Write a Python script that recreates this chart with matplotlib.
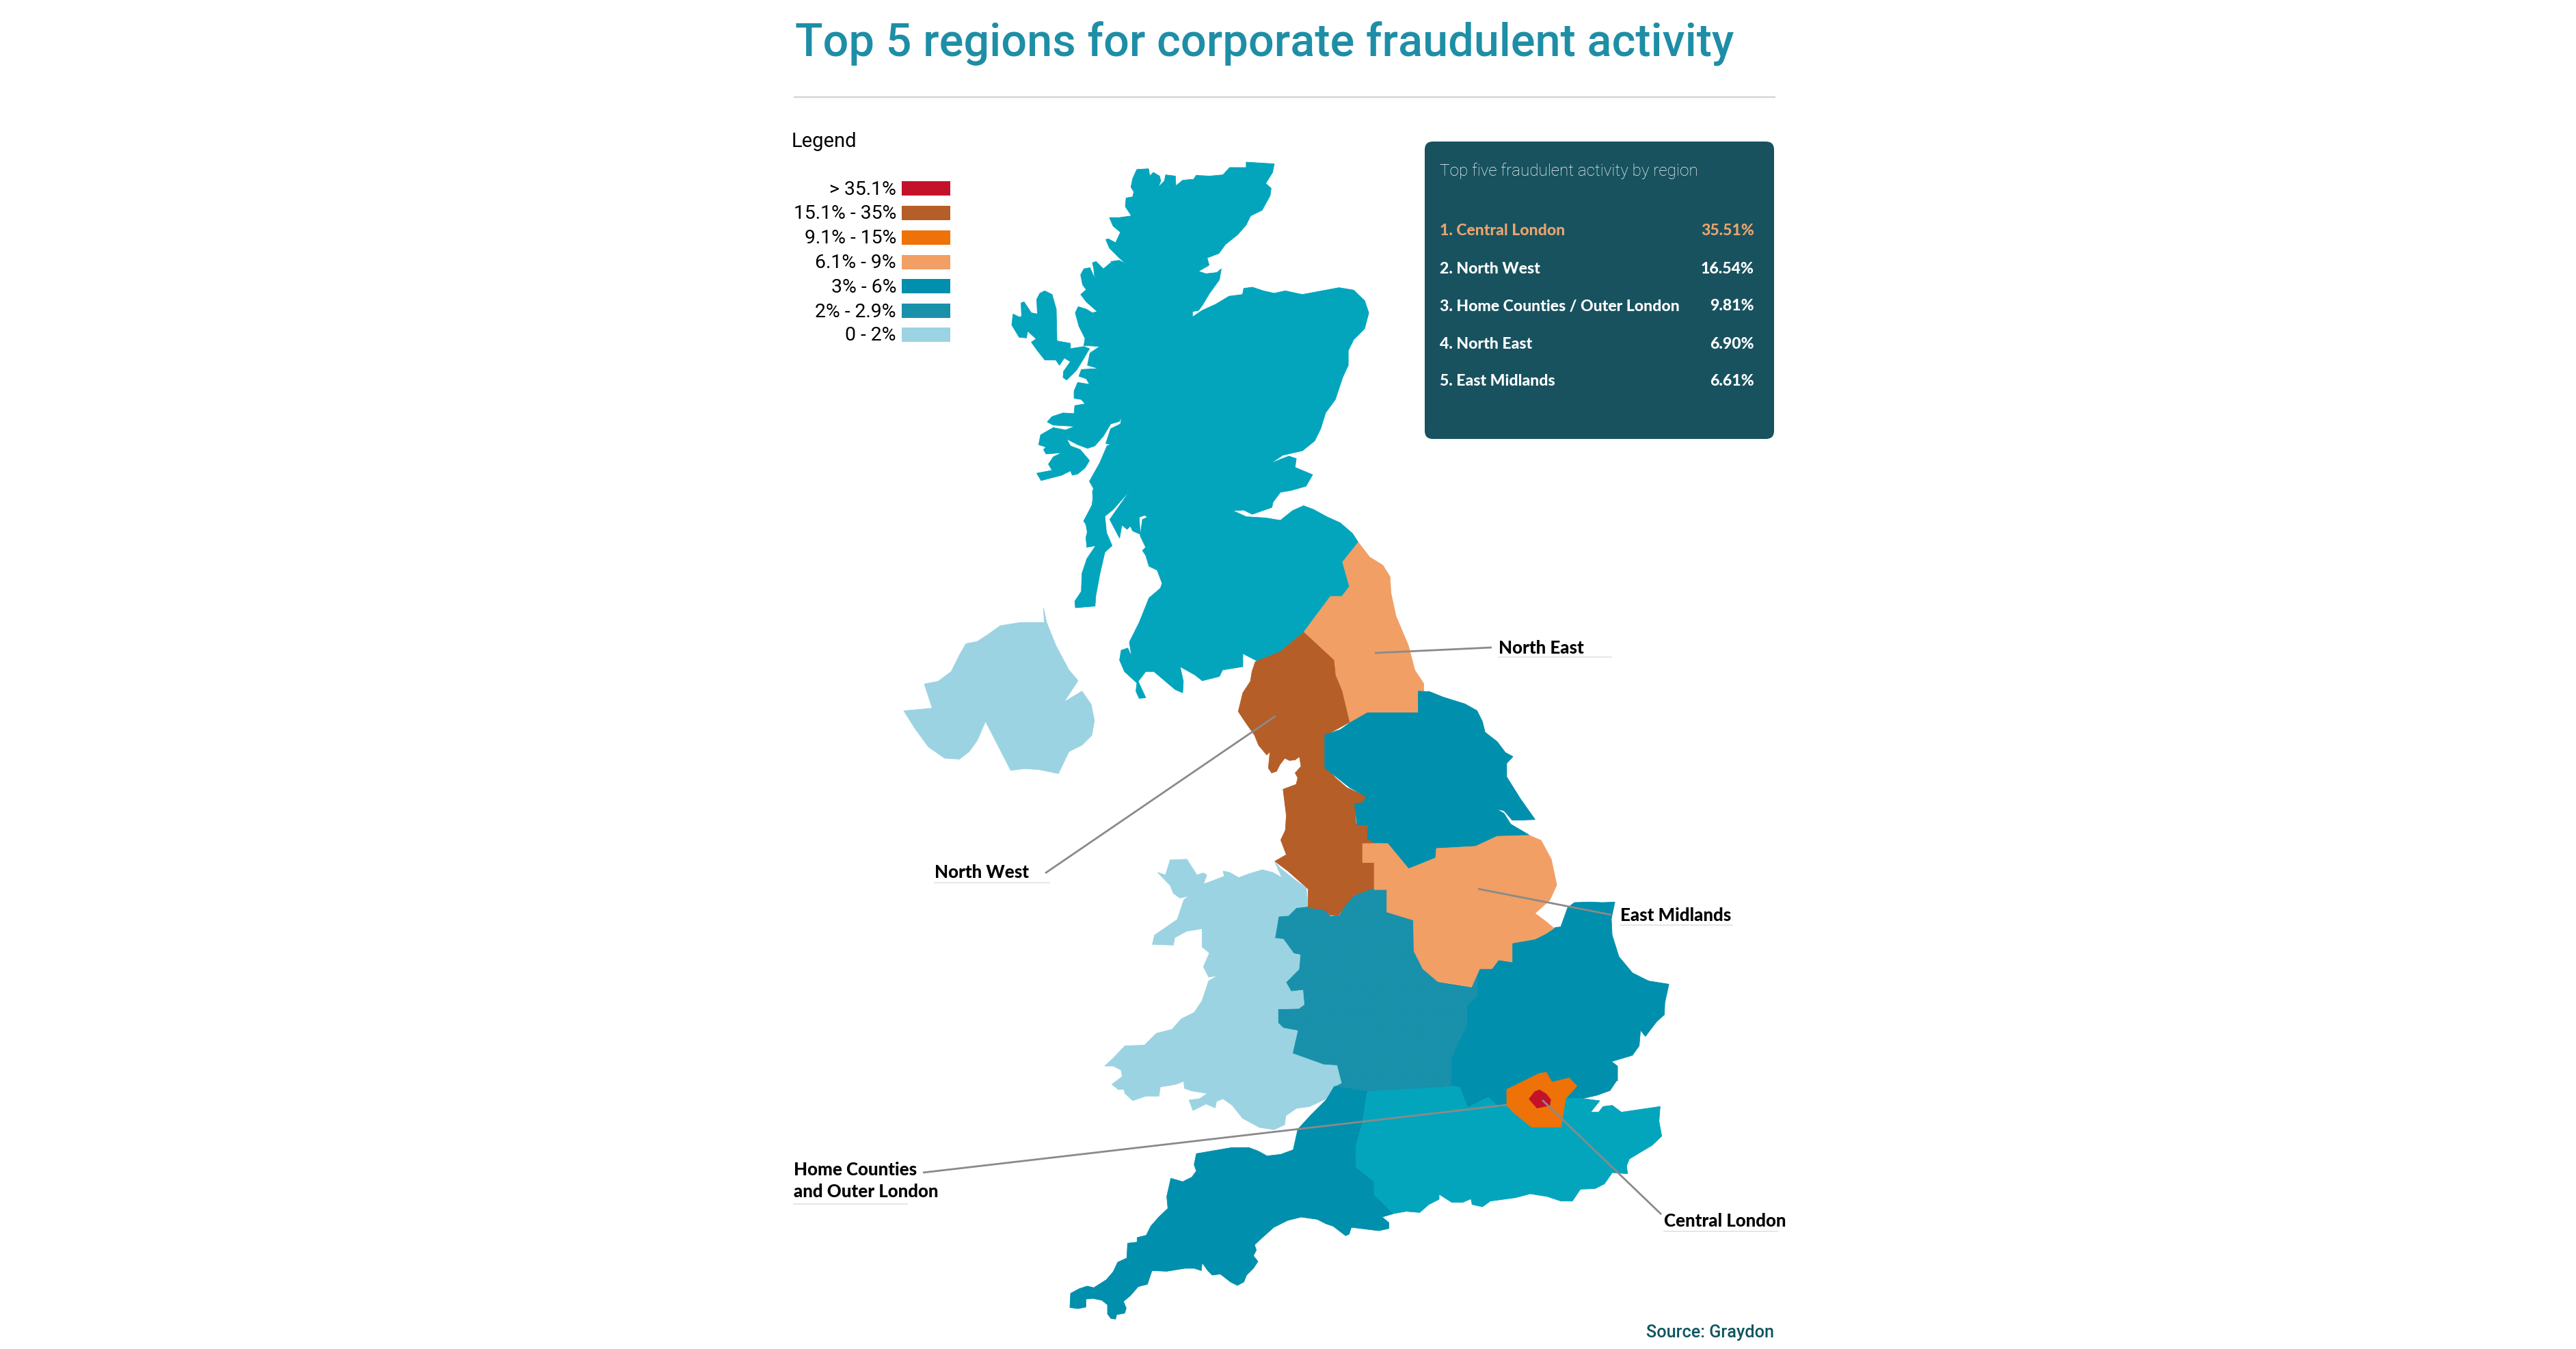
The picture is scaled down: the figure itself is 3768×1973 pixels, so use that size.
import numpy as np
import matplotlib
matplotlib.use("Agg")
import matplotlib.pyplot as plt
from matplotlib.patches import Polygon, FancyBboxPatch, Rectangle

W, H = 3768, 1973
TEAL_A, TEAL_B, TEAL_C = "#03a5bd", "#008fac", "#1e96b0"
BROWN, ORANGE_L, ORANGE, RED, PALE = "#b55e28", "#f19f65", "#ee7208", "#c4122a", "#9bd3e2"

title = "Top 5 regions for corporate fraudulent activity"
legend_labels = ["> 35.1%", "15.1% - 35%", "9.1% - 15%", "6.1% - 9%", "3% - 6%", "2% - 2.9%", "0 - 2%"]
legend_colors = [RED, BROWN, ORANGE, ORANGE_L, TEAL_B, TEAL_C, PALE]
panel_title = "Top five fraudulent activity by region"
panel_regions = ["1. Central London", "2. North West", "3. Home Counties / Outer London", "4. North East", "5. East Midlands"]
panel_values = ["35.51%", "16.54%", "9.81%", "6.90%", "6.61%"]

# traced outlines: (crop left, crop top, display scale), then points in that crop
def tr(x0, y0, s, pts):
    return [(x0 + a / s, y0 + b / s) for a, b in pts]
Z5 = (1480, 220, 2.8); Z6 = (1310, 700, 2.0907); Z7 = (1850, 980, 2.529)
Z8 = (1590, 1230, 2.613); Z9 = (1540, 1580, 3.0); Z10 = (1950, 1400, 3.0)

scot_a = [(512,78),(560,75),(565,105),(580,90),(605,105),(610,125),(600,150),(625,125),(630,100),(670,105),(672,145),(700,122),(745,118),(755,102),(810,105),(865,100),(892,70),(960,70),(960,48),(1075,55),(1068,90),(1040,135),(1062,155),(1058,185),(1025,245),(978,268),(960,305),(925,345),(875,385),(848,422),(800,440),(808,470),(765,495),(795,505),(840,500),(858,485),(850,530),(810,585),(780,635),(765,655),(740,660),(740,682),(780,655),(835,630),(890,597),(945,590),(950,565),(985,560),(1030,575),(1075,585),(1120,575),(1190,590),(1270,575),(1340,562),(1400,572),(1445,615),(1462,665),(1445,730),(1400,775),(1378,820),(1378,880),(1355,930),(1325,1020),(1285,1075),(1265,1140),(1240,1190),(1190,1230),(1110,1248),(1058,1283),(1100,1265),(1135,1252),(1165,1262),(1160,1298),(1232,1328),(1205,1375),(1145,1392),(1100,1400),(1070,1440),(1065,1462),(985,1490),(950,1473),(905,1475),(960,1500),(1040,1505),(1100,1515),(1150,1475),(1195,1455),(1235,1470),(1290,1500),(1345,1525),(1395,1568)]
scot_b = [(1415,195),(1367,255),(1388,330),(1365,360),(1330,360),(1248,470),(1175,530),(1110,560),(1062,535),(1062,575),(1000,585),(990,605),(950,615),(938,618),(915,600),(870,575),(880,620),(878,655),(855,645),(790,590),(765,590),(742,620),(765,670),(745,672),(735,650),(738,625),(700,590),(685,555),(690,525),(710,518),(722,545),(715,500),(745,440),(775,365),(810,335),(815,320),(800,280),(775,268),(765,235),(755,220),(765,210),(748,175),(755,125),(770,118),(790,130),(822,145),(780,125),(762,112),(745,118),(748,170),(725,160),(718,145),(708,155),(692,142),(685,182),(655,125),(718,35),(665,95),(640,115),(645,165),(662,205),(640,225),(625,290),(612,360),(610,390),(550,395),(548,375),(568,345),(570,290),(585,245),(612,205),(585,210),(582,180),(590,150),(575,130),(605,75),(602,40),(612,10)]
scot_c = [(310,1568),(300,1510),(330,1450),(335,1385),(318,1355),(360,1280),(390,1210),(405,1205),(385,1200),(405,1140),(445,1120),(450,1092),(440,1110),(405,1120),(375,1170),(340,1210),(310,1220),(270,1205),(225,1182),(240,1210),(280,1225),(318,1270),(300,1300),(270,1325),(248,1330),(240,1312),(205,1330),(120,1352),(102,1322),(165,1310),(150,1285),(170,1255),(205,1238),(140,1243),(130,1225),(140,1215),(110,1205),(118,1165),(170,1135),(220,1145),(258,1130),(170,1125),(145,1112),(165,1090),(210,1075),(255,1078),(258,1045),(300,1038),(285,1020),(255,1015),(255,985),(270,950),(318,958),(305,935),(275,925),(285,897),(355,893),(310,880),(320,830),(360,803),(318,800),(295,800),(300,770),(275,720),(260,665),(272,640),(305,650),(330,665),(350,660),(305,620),(282,590),(305,570),(290,550),(282,510),(295,485),(320,480),(340,525),(335,480),(330,460),(345,455),(375,485),(405,460),(420,475),(405,455),(440,450),(468,465),(440,440),(400,400),(385,365),(395,362),(425,378),(445,335),(415,310),(400,275),(440,275),(490,268),(465,230),(468,195),(495,190),(500,170),(488,150),(495,115)]
skye = [(135,575),(165,590),(182,650),(185,780),(240,790),(240,812),(295,803),(318,812),(290,860),(265,900),(225,940),(210,930),(212,905),(240,865),(215,850),(195,880),(180,858),(135,858),(105,820),(80,785),(100,772),(65,740),(60,768),(30,765),(0,715),(5,670),(30,682),(40,680),(38,625),(50,620),(80,665),(105,670),(102,610),(115,585)]
north_east_a = [(1415,195),(1450,240),(1490,265),(1512,300),(1515,350),(1530,420),(1568,510)]
north_east_b = [(555,0),(588,50),(588,78),(568,78),(568,158),(380,158),(315,195),(285,80),(258,0)]
north_east_c = [(1340,555),(1248,470),(1330,360),(1365,360),(1388,330),(1367,255)]
north_west = [(1248,470),(1340,555),(1345,600),(1365,650),(1388,745),(1315,785),(1315,880),(1345,915),(1380,945),(1440,972),(1432,995),(1405,998),(1408,1055),(1442,1062),(1445,1095),(1470,1115),(1428,1118),(1428,1172),(1465,1172),(1465,1250),(1400,1275),(1375,1305),(1355,1335),(1330,1335),(1310,1318),(1262,1312),(1262,1255),(1200,1200),(1160,1170),(1195,1150),(1178,1105),(1192,1075),(1195,1030),(1185,950),(1225,935),(1230,915),(1222,900),(1240,880),(1235,850),(1222,860),(1205,862),(1190,855),(1175,875),(1165,895),(1150,900),(1140,885),(1145,835),(1135,845),(1110,815),(1098,785),(1070,745),(1048,712),(1062,655),(1085,620),(1090,590),(1100,560),(1175,530)]
yorkshire = [(568,78),(610,80),(660,100),(740,125),(785,150),(805,190),(815,230),(860,265),(890,305),(918,320),(895,345),(895,395),(945,475),(1000,553),(950,555),(915,555),(885,520),(858,515),(885,530),(910,570),(978,610),(860,615),(780,652),(635,660),(632,695),(532,735),(455,642),(410,640),(380,625),(380,575),(342,572),(332,495),(365,490),(375,468),(315,435),(222,362),(222,240),(280,220),(315,195),(380,158),(568,158)]
east_midlands = [(860,615),(980,612),(1022,630),(1060,700),(1080,795),(1055,850),(1000,900),(1040,930),(1070,955),(1040,975),(1000,995),(915,1010),(915,1080),(865,1072),(840,1105),(795,1105),(765,1172),(640,1152),(585,1105),(552,1040),(550,925),(452,895),(452,812),(405,812),(405,712),(362,712),(362,642),(455,642),(532,735),(632,695),(635,660),(780,652)]
east_a = [(1120,880),(1145,860),(1200,858),(1250,860),(1295,858),(1282,920),(1285,980),(1310,1060),(1360,1120),(1420,1150),(1495,1162),(1480,1230),(1478,1275),(1450,1300),(1408,1355),(1390,1332),(1385,1390),(1360,1425),(1283,1448),(1305,1465),(1305,1520)]
east_b = [(1245,540),(1215,585),(1160,605),(1095,620),(1020,620),(1070,565),(1035,530),(960,548),(935,505),(905,510),(762,580),(762,650),(730,660),(680,615),(590,660),(555,570),(520,565),(520,440),(590,300),(590,215),(635,170),(635,60)]
east_c = [(795,1105),(840,1105),(865,1072),(915,1080),(915,1010),(1000,995),(1040,975),(1075,952),(1095,950)]
south_east = [(150,590),(520,568),(555,570),(590,660),(680,615),(730,660),(762,650),(790,680),(870,745),(1000,745),(1020,620),(1095,620),(1170,630),(1130,680),(1165,680),(1185,655),(1225,650),(1265,680),(1435,655),(1430,720),(1442,785),(1400,825),(1300,885),(1288,915),(1292,950),(1225,945),(1190,995),(1150,1015),(1085,1018),(1050,1070),(1000,1070),(940,1050),(865,1038),(800,1055),(690,1070),(655,1095),(610,1085),(605,1060),(570,1075),(520,1075),(465,1040),(465,1062),(420,1085),(380,1120),(320,1115),(265,1125),(180,1040),(180,985),(100,920),(100,830),(130,720)]
south_west_a = [(150,590),(130,720),(100,830),(100,920),(180,985),(180,1040),(265,1125),(215,1140),(245,1165),(245,1190),(200,1200),(80,1185),(70,1215),(55,1222),(0,1180)]
south_west_b = [(1200,630),(1160,610),(1090,600),(1030,615),(970,645),(925,685),(885,722),(893,745),(880,770),(900,795),(880,825),(850,855),(838,885),(810,900),(780,885),(735,850),(700,855),(680,835),(655,800),(652,835),(620,825),(580,825),(500,838),(435,835),(415,895),(375,905),(340,945),(310,970),(322,1000),(315,1022),(280,1028),(275,1048),(255,1045),(240,1025),(240,985),(215,965),(175,957),(145,960),(145,995),(110,1002),(75,997),(78,935),(115,915),(150,903),(180,910),(235,875),(265,840),(285,798),(325,780),(328,715),(370,710),(370,690),(410,680),(430,640),(465,600),(505,562),(500,510),(518,430),(570,445),(610,425),(630,398),(620,370),(630,322),(780,296),(860,295),(900,310),(940,332),(1000,325),(1055,305),(1075,215),(1130,155),(1200,85)]
south_west_c = [(945,938)]
wales = [(318,72),(382,70),(420,130),(445,122),(458,130),(445,165),(525,135),(520,115),(545,120),(580,140),(620,125),(670,110),(710,120),(745,140),(718,80),(740,105),(790,145),(838,180),(845,250),(800,255),(770,285),(732,288),(718,372),(750,375),(790,430),(815,435),(810,490),(760,540),(780,575),(825,570),(830,625),(810,640),(730,642),(730,695),(750,715),(805,725),(785,812),(905,855),(955,858),(972,925),(945,938),(915,985),(850,1015),(800,1022),(760,1050),(755,1085),(715,1103),(660,1095),(595,1060),(555,1010),(520,985),(495,995),(490,1020),(455,1005),(405,1030),(390,990),(430,985),(460,965),(400,955),(372,945),(370,918),(340,930),(280,940),(275,975),(225,975),(175,992),(145,965),(140,945),(185,945),(120,950),(95,930),(135,900),(130,875),(100,860),(68,860),(100,830),(145,783),(220,780),(265,735),(325,720),(360,680),(410,655),(440,610),(465,535),(498,515),(465,520),(445,480),(468,428),(440,405),(440,335),(380,345),(335,370),(330,398),(250,395),(258,360),(345,300),(370,225),(390,210),(355,218),(330,200),(318,170),(270,120),(300,130)]
midlands = [(845,250),(905,258),(930,288),(965,285),(995,230),(1040,195),(1098,172),(1098,185),(1145,185),(1145,268),(1248,300),(1250,420),(1285,480),(1345,540),(1470,560),(1495,498),(1495,600),(1455,630),(1455,720),(1395,820),(1395,938),(1070,968),(945,938),(972,925),(955,858),(905,855),(785,812),(805,725),(750,715),(730,695),(730,642),(810,640),(830,625),(825,570),(780,575),(760,540),(810,490),(815,435),(790,430),(750,375),(718,372),(732,288),(770,285),(800,255)]
greater_london = [(762,580),(905,510),(935,505),(960,548),(1035,530),(1070,565),(1020,620),(1000,745),(870,745),(790,680),(762,650)]
central_london = [(885,590),(905,582),(935,600),(955,625),(950,650),(895,662),(860,622)]
northern_ireland = [(452,395),(462,440),(490,510),(530,585),(558,618),(515,683),(570,650),(598,690),(608,740),(600,785),(570,815),(530,835),(498,902),(440,890),(395,887),(352,892),(320,830),(275,742),(250,800),(225,835),(195,858),(150,855),(100,820),(60,765),(25,710),(112,702),(88,628),(130,620),(170,590),(195,540),(215,505),(250,498),(285,475),(320,450),(380,440),(455,440)]

shapes = [
    (tr(*Z6, northern_ireland), PALE),
    (tr(*Z8, wales), PALE),
    (tr(*Z5, scot_a) + tr(*Z6, scot_b) + tr(*Z5, scot_c), TEAL_A),
    (tr(*Z5, skye), TEAL_A),
    (tr(*Z6, north_east_a) + tr(*Z7, north_east_b) + tr(*Z6, north_east_c), ORANGE_L),
    (tr(*Z6, north_west), BROWN),
    (tr(*Z7, yorkshire), TEAL_B),
    (tr(*Z7, east_a) + tr(*Z10, east_b) + tr(*Z7, east_c), TEAL_B),
    (tr(*Z10, south_west_a) + tr(*Z9, south_west_b) + tr(*Z8, south_west_c), TEAL_B),
    (tr(*Z10, south_east), TEAL_A),
    (tr(*Z7, east_midlands), ORANGE_L),
    (tr(*Z10, greater_london), ORANGE),
    (tr(*Z10, central_london), RED),
]

plt.rcParams["hatch.linewidth"] = 0.6
fig = plt.figure(figsize=(W / 100, H / 100), dpi=100, facecolor="white")
ax = fig.add_axes([0, 0, 1, 1])
ax.set_xlim(0, W); ax.set_ylim(H, 0); ax.axis("off")

ax.add_patch(Polygon(tr(*Z8, midlands), closed=True, facecolor=TEAL_C, edgecolor="#0e84a0", lw=0.6, hatch="........", zorder=1.5))
for pts, col in shapes:
    ax.add_patch(Polygon(pts, closed=True, facecolor=col, edgecolor=col, lw=0.6, zorder=2))

# Title and rule
ax.text(1163, 63, title, fontsize=48, family="Roboto", weight="medium", color="#1e8ea6", ha="left", va="center")
ax.plot([1161, 2597], [142, 142], color="#d2d2d2", lw=1.6, solid_capstyle="butt")

# Legend
ax.text(1158, 207, "Legend", fontsize=21, family="Roboto", color="black", ha="left", va="center")
legend_y = [275.5, 311, 347, 383, 418, 454, 489]
for y, lab, col in zip(legend_y, legend_labels, legend_colors):
    ax.text(1311, y + 2, lab, fontsize=20.4, family="Roboto", color="black", ha="right", va="center")
    ax.add_patch(Rectangle((1319, y - 10.5), 71, 21, facecolor=col, edgecolor="#0e84a0" if col == TEAL_C else "none",
                           lw=0, hatch="........" if col == TEAL_C else None))

# Panel
ax.add_patch(FancyBboxPatch((2096, 219), 487, 411, boxstyle="round,pad=12,rounding_size=12",
                            facecolor="#18525f", edgecolor="none", zorder=3))
ax.text(2106, 250, panel_title, fontsize=17.5, family="Roboto", weight="light", color="white", ha="left", va="center", zorder=4)
row_y = [338, 393, 448, 503, 557]
for i, (y, r, v) in enumerate(zip(row_y, panel_regions, panel_values)):
    c = "#eaa46e" if i == 0 else "white"
    ax.text(2106, y, r, fontsize=16.6, family="Lato", weight=900, color=c, ha="left", va="center", zorder=4)
    ax.text(2566, y, v, fontsize=16.6, family="Lato", weight=900, color=c, ha="right", va="center", zorder=4)

# Callouts
callouts = [
    ("North East", 2192, 948, (2011, 955), (2182, 947), 2357, 961),
    ("North West", 1367, 1276, (1866, 1047), (1529, 1277), 1535, 1291),
    ("East Midlands", 2370, 1339, (2162, 1300), (2357, 1338), 2534, 1353),
    ("Home Counties\nand Outer London", 1161, 1727, (2204, 1616), (1350, 1715), 1327, 1761),
    ("Central London", 2434, 1786, (2256, 1609), (2430, 1776), 2600, 1801),
]
for name, x, y, a, b, ux, uy in callouts:
    ax.plot([a[0], b[0]], [a[1], b[1]], color="#8a8a8a", lw=2.0, zorder=5, solid_capstyle="butt")
    ax.text(x, y, name, fontsize=18.6, family="Lato", weight=900, color="black", ha="left", va="center",
            linespacing=1.38, zorder=6)
    ax.plot([x, ux], [uy, uy], color="#e6e6e6", lw=1.4, zorder=4)

ax.text(2595, 1949, "Source: Graydon", fontsize=18.2, family="Roboto", weight="medium", color="#0f5560", ha="right", va="center")

fig.savefig("out.png", dpi=100, facecolor="white")
